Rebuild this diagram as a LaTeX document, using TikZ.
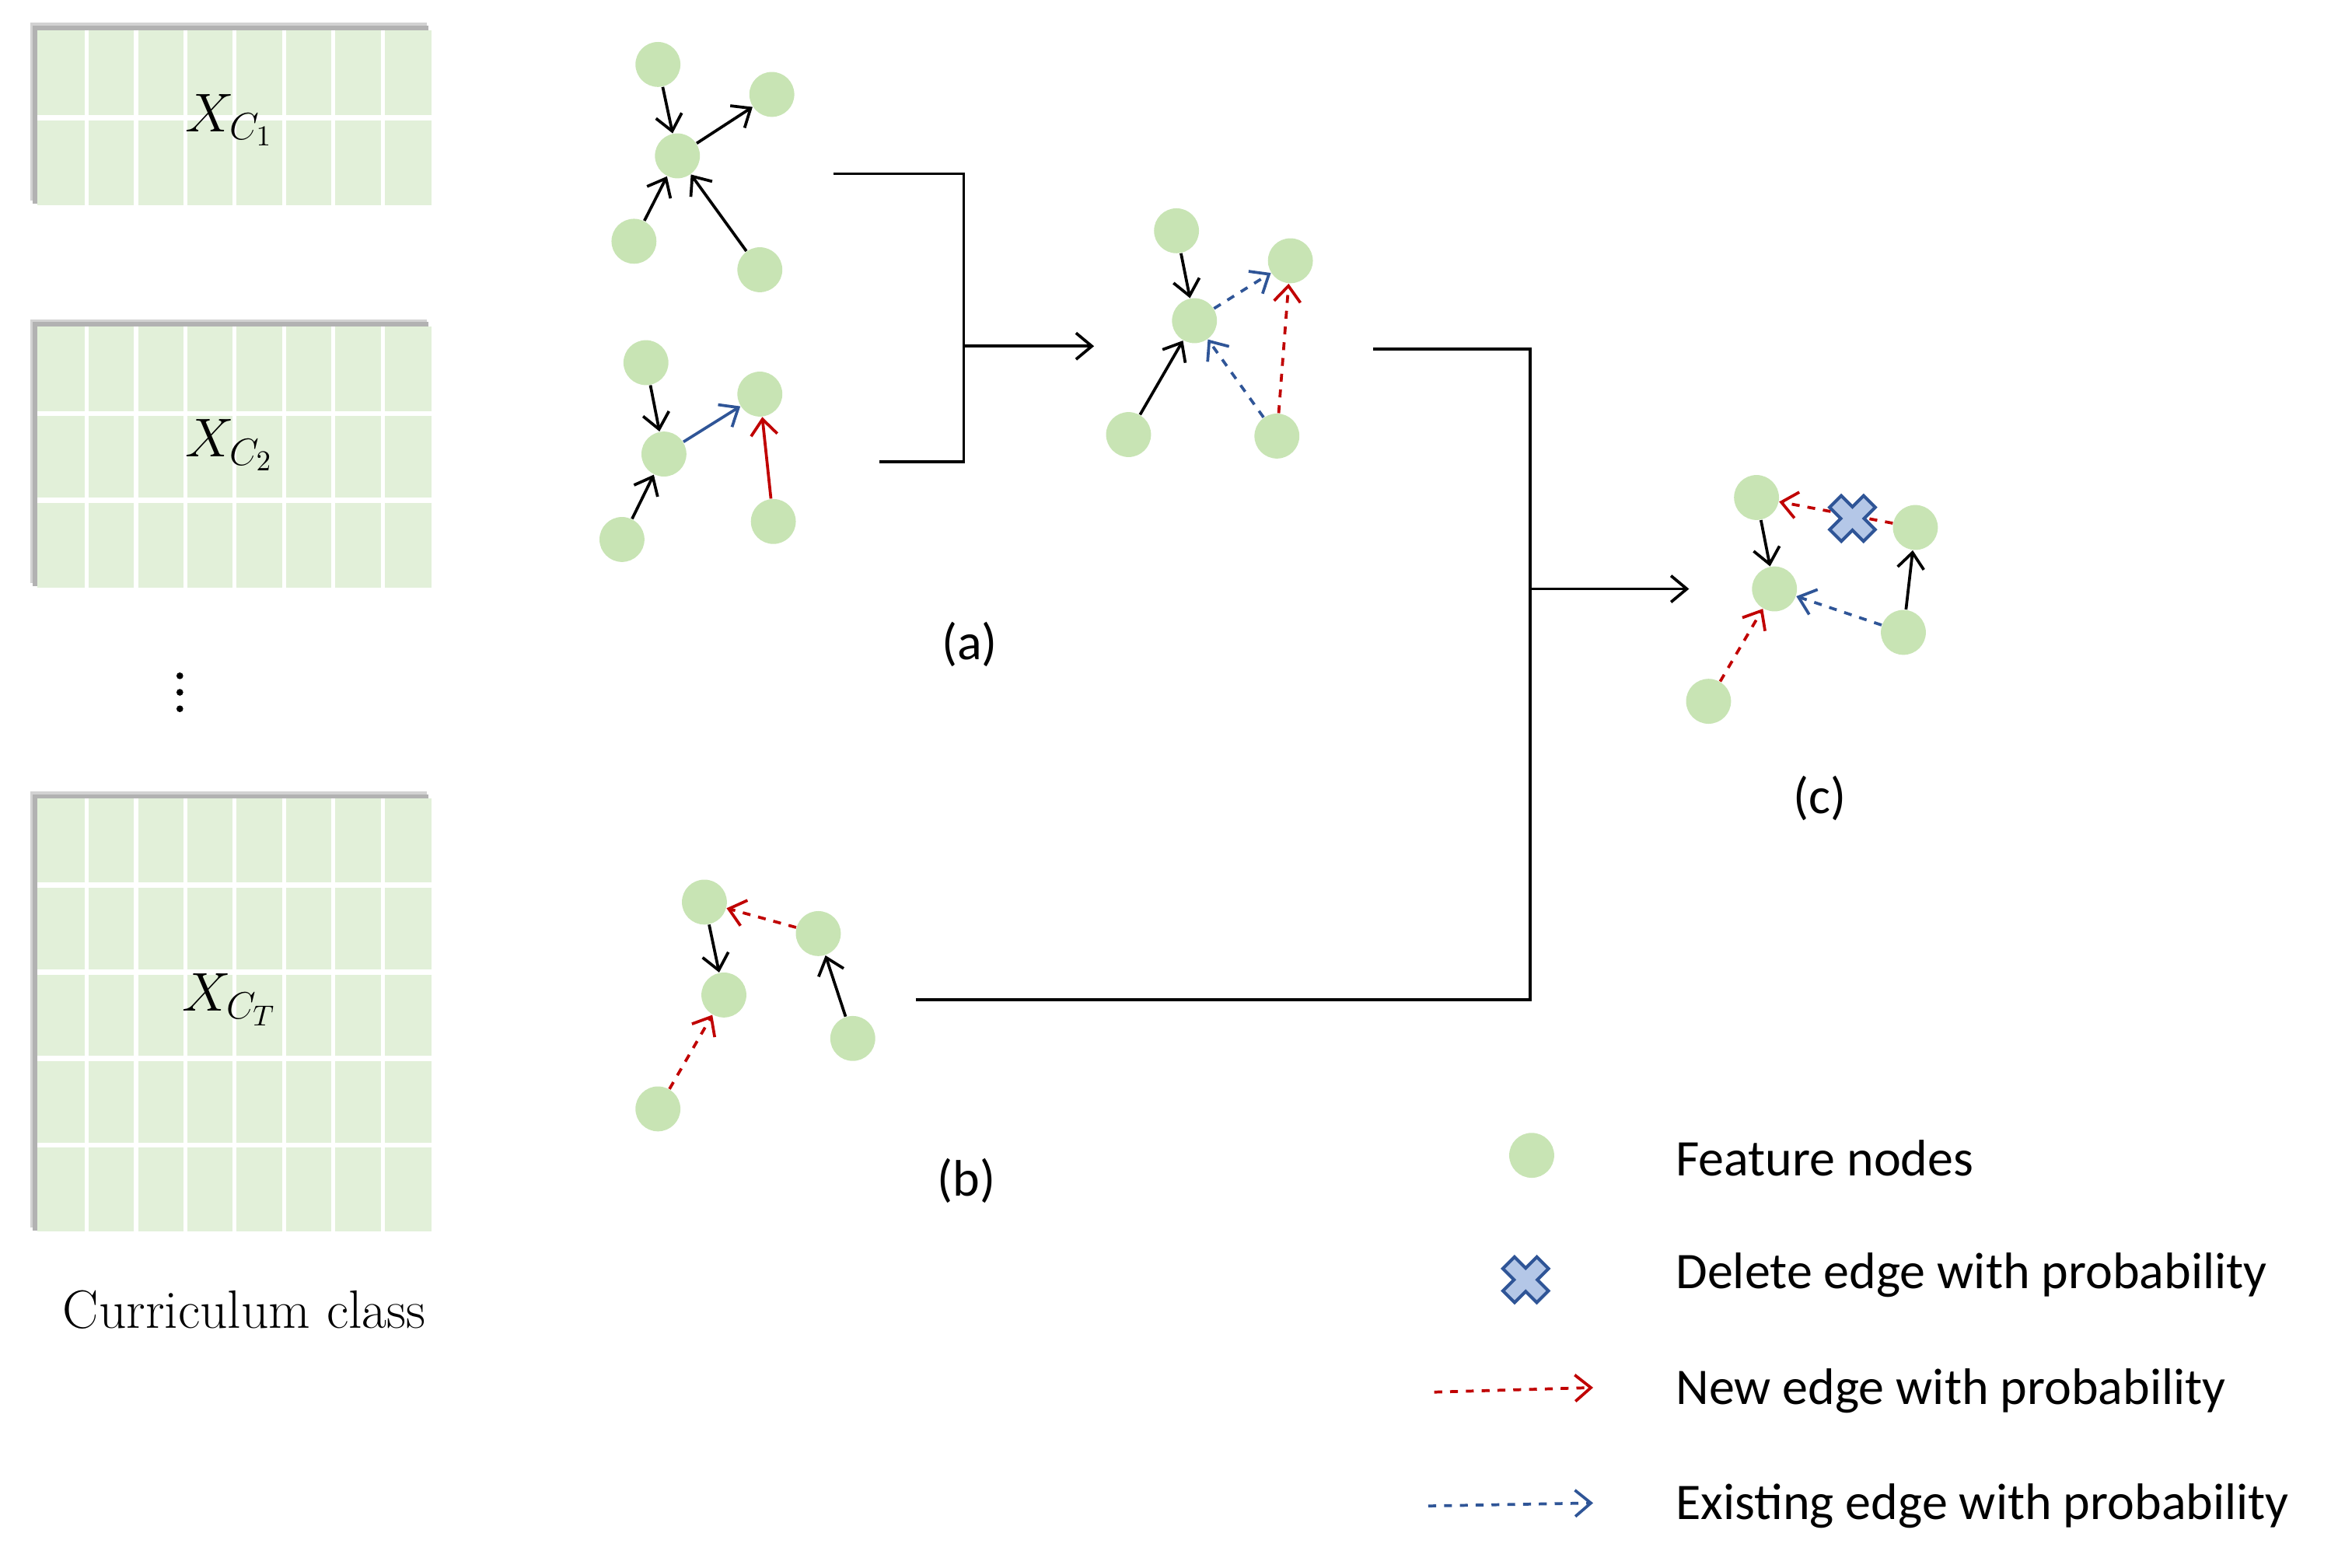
\documentclass[tikz,border=0pt]{standalone}
\usepackage{fontspec}
\setmainfont{Carlito}
\newfontfamily\serifrm{Latin Modern Roman}
\usetikzlibrary{arrows.meta, positioning, calc}
\definecolor{nodegreen}{RGB}{200,228,180}
\definecolor{gridgreen}{RGB}{226,240,217}
\definecolor{newred}{RGB}{192,0,0}
\definecolor{oldblue}{RGB}{47,85,151}
\definecolor{xfill}{RGB}{180,199,231}
\begin{document}
\begin{tikzpicture}[x=0.02cm, y=-0.02cm,
        feat/.style={circle, fill=nodegreen, inner sep=0pt, minimum size=0.6cm},
        edge/.style={-{Straight Barb[length=6pt, width=10pt]}, line width=1.1pt},
        newedge/.style={edge, newred, dashed},
        oldedge/.style={edge, oldblue, dashed},
        line/.style={line width=1.1pt},
        lbl/.style={font=\fontsize{19.5}{22}\selectfont},
        delx/.pic={\filldraw[oldblue, fill=xfill, line width=1.2pt, rotate=45]
            (5.5,16) -- (5.5,5.5) -- (16,5.5) -- (16,-5.5) -- (5.5,-5.5) -- (5.5,-16) --
            (-5.5,-16) -- (-5.5,-5.5) -- (-16,-5.5) -- (-16,5.5) -- (-5.5,5.5) -- (-5.5,16) -- cycle;}
    ]
    \useasboundingbox (0,0) rectangle (1560,1046);

    % curriculum classes
    \foreach \ya/\yb/\nr in {20/137/2, 218/392/3, 533/822/5} {
        \fill[gray!35] (20,\ya-5) rectangle (285,\yb-3);
        \fill[gray!60] (22,\ya-3) rectangle (286,\yb-1);
        \fill[gridgreen] (25,\ya) rectangle (288,\yb);
        \foreach \c in {1,...,7}
            \draw[white, line width=1.5pt] (25+\c*32.9,\ya) -- (25+\c*32.9,\yb);
        \pgfmathsetmacro{\rh}{(\yb-\ya)/\nr}
        \pgfmathtruncatemacro{\nl}{\nr-1}
        \foreach \r in {1,...,\nl}
            \draw[white, line width=2pt] (25,\ya+\r*\rh) -- (288,\ya+\r*\rh);
    }
    \node[font=\fontsize{22}{24}\selectfont] (x1) at (153,80) {$X_{C_1}$};
    \node[font=\fontsize{22}{24}\selectfont] (x2) at (153,297) {$X_{C_2}$};
    \node[font=\fontsize{22}{24}\selectfont] (xt) at (153,667) {$X_{C_T}$};
    \foreach \d in {451,462,473}
        \fill (120,\d) circle (0.045cm);
    \node[font=\fontsize{20.5}{22}\selectfont\serifrm] (cc) at (163,874) {Curriculum class};

    % graph a1
    \node[feat] (a) at (439,43) {};
    \node[feat] (b) at (515,63) {};
    \node[feat] (c) at (452,104) {};
    \node[feat] (d) at (423,161) {};
    \node[feat] (e) at (507,180) {};
    \draw[edge] (a) -- (c);
    \draw[edge] (c) -- (b);
    \draw[edge] (d) -- (c);
    \draw[edge] (e) -- (c);

    % graph a2
    \node[feat] (f) at (431,242) {};
    \node[feat] (g) at (507,263) {};
    \node[feat] (h) at (443,303) {};
    \node[feat] (i) at (415,360) {};
    \node[feat] (j) at (516,348) {};
    \draw[edge] (f) -- (h);
    \draw[edge, oldblue] (h) -- (g);
    \draw[edge, newred] (j) -- (g);
    \draw[edge] (i) -- (h);

    % merged graph
    \node[feat] (k) at (785,154) {};
    \node[feat] (l) at (861,174) {};
    \node[feat] (m) at (797,214) {};
    \node[feat] (n) at (753,290) {};
    \node[feat] (o) at (852,291) {};
    \draw[edge] (k) -- (m);
    \draw[oldedge] (m) -- (l);
    \draw[oldedge] (o) -- (m);
    \draw[newedge] (o) -- (l);
    \draw[edge] (n) -- (m);
    \node[lbl] (la) at (647,430) {(a)};

    % graph b
    \node[feat] (p) at (470,602) {};
    \node[feat] (q) at (546,623) {};
    \node[feat] (r) at (483,664) {};
    \node[feat] (s) at (439,740) {};
    \node[feat] (t) at (569,693) {};
    \draw[newedge] (q) -- (p);
    \draw[edge] (p) -- (r);
    \draw[newedge] (s) -- (r);
    \draw[edge] (t) -- (q);
    \node[lbl] (lb) at (645,788) {(b)};

    % graph c
    \node[feat] (u) at (1172,332) {};
    \node[feat] (v) at (1278,352) {};
    \node[feat] (w) at (1184,393) {};
    \node[feat] (x) at (1140,468) {};
    \node[feat] (y) at (1270,422) {};
    \draw[newedge] (v) -- (u);
    \pic at (1236,346) {delx};
    \draw[edge] (u) -- (w);
    \draw[oldedge] (y) -- (w);
    \draw[newedge] (x) -- (w);
    \draw[edge] (y) -- (v);
    \node[lbl] (lc) at (1214,533) {(c)};

    % connectors
    \coordinate (ja) at (643,231);
    \coordinate (jb) at (1021,393);
    \draw[line] (556,116) -| (ja) |- (587,308);
    \draw[line, -{Straight Barb[length=6pt, width=10pt]}] (ja) -- (730,231);
    \draw[line] (611,667) -| (jb) |- (916,233);
    \draw[line, -{Straight Barb[length=6pt, width=10pt]}] (jb) -- (1127,393);

    % legend
    \node[feat] (lg1) at (1022,771) {};
    \pic at (1018,854) {delx};
    \coordinate (r1) at (957,929);
    \coordinate (r2) at (1063,926);
    \coordinate (b1) at (953,1005);
    \coordinate (b2) at (1063,1003);
    \draw[newedge] (r1) -- (r2);
    \draw[oldedge] (b1) -- (b2);
    \node[lbl, anchor=west] (t1) at (1112,773) {Feature nodes};
    \node[lbl, anchor=west] (t2) at (1112,851) {Delete edge with probability};
    \node[lbl, anchor=west] (t3) at (1112,928) {New edge with probability};
    \node[lbl, anchor=west] (t4) at (1112,1005) {Existing edge with probability};
\end{tikzpicture}
\end{document}
